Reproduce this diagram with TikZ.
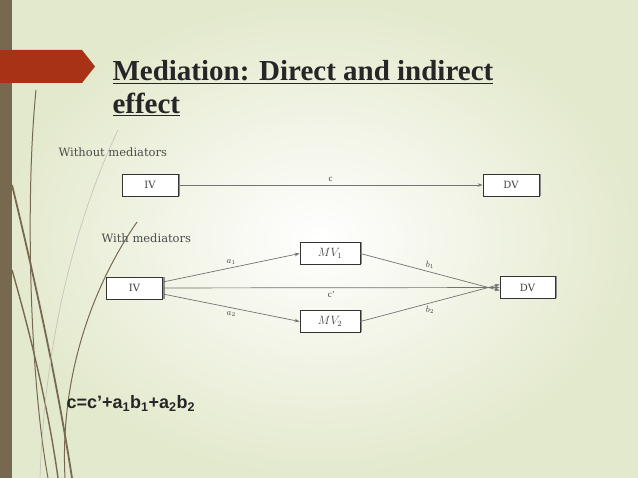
\documentclass[tikz,border=0pt]{standalone}
\usepackage{fontspec}
\setmainfont{Liberation Serif}
\setsansfont{Liberation Sans}
\newfontfamily\wideserif{DejaVu Serif}
\usetikzlibrary{arrows.meta,shadows}
\definecolor{barc}{HTML}{76694F}
\definecolor{redc}{HTML}{A83216}
\definecolor{bgc}{HTML}{E3E9CC}
\begin{document}
\begin{tikzpicture}[x=1pt,y=-1pt,
  box/.style={draw=black!80,fill=white,line width=0.7pt,minimum width=#1,minimum height=22pt,inner sep=0pt,
    font=\wideserif\fontsize{10}{12}\selectfont,text=black!75,
    drop shadow={shadow xshift=2pt,shadow yshift=0pt,fill=black!45,opacity=1}},
  box/.default=56pt,
  conn/.style={draw=black!55,line width=0.7pt,-{Stealth[length=5pt,width=3.5pt]}},
  el/.style={font=\fontsize{9}{10}\selectfont,text=black!75},
  hd/.style={font=\wideserif\fontsize{11.5}{12}\selectfont,text=black!70,anchor=west},
  curve/.style={draw=barc,line width=1.8pt}]
\useasboundingbox (0,0) rectangle (638,478);
\shade[inner color=white,outer color=bgc] (0,0) rectangle (638,478);
\fill[barc] (0,0) rectangle (12,478);
% decorative curves
\draw[curve] (12,185) .. controls (40,300) and (60,400) .. (72,478);
\draw[curve,line width=1.4pt] (12,270) .. controls (35,350) and (50,420) .. (58,478);
\draw[curve,line width=1pt] (36,90) .. controls (25,200) and (30,380) .. (48,478);
\draw[barc,line width=1pt] (137,222) .. controls (90,290) and (60,380) .. (65,478);
\draw[barc!40,line width=0.7pt] (118,130) .. controls (80,210) and (45,330) .. (40,478);
\fill[redc] (0,50) -- (82,50) -- (95,66.5) -- (82,83) -- (0,83) -- cycle;
% title
\node[anchor=base west,font=\fontsize{29}{29}\selectfont\bfseries,text=black!85] (t1) at (109,81) {\underline{Mediation: Direct and indirect}};
\node[anchor=base west,font=\fontsize{29}{29}\selectfont\bfseries,text=black!85] (t2) at (109,114) {\underline{effect}};
% top diagram
\node[hd] (h1) at (55,152) {Without mediators};
\node[box] (iv1) at (150,185) {IV};
\node[box] (dv1) at (511,185) {DV};
\draw[conn] (iv1) -- node[el,above]{c} (dv1);
% bottom diagram
\node[hd] (h2) at (98,238) {With mediators};
\node[box] (iv2) at (134.5,288) {IV};
\node[box=60pt,font=\fontsize{12}{12}\selectfont] (mv1) at (330,253.5) {$M V_1$};
\node[box=60pt,font=\fontsize{12}{12}\selectfont] (mv2) at (330,321.5) {$M V_2$};
\node[box=55pt] (dv2) at (527.5,287.5) {DV};
\draw[conn] (iv2.east) ++(0,-6) coordinate (a) (a) -- node[el,above,pos=0.5]{$a_1$} (mv1.west);
\draw[conn] (iv2.east) ++(0,6) coordinate (b) (b) -- node[el,below,pos=0.5]{$a_2$} (mv2.west);
\draw[conn] (iv2) -- node[el,below]{c'} (dv2);
\draw[conn] (mv1.east) -- node[el,above]{$b_1$} ([yshift=-3pt]dv2.west);
\draw[conn] (mv2.east) -- node[el,below]{$b_2$} ([yshift=3pt]dv2.west);
\node[anchor=base west,font=\sffamily\bfseries\fontsize{18}{20}\selectfont,text=black!85] (f) at (63,409) {c=c’+a\textsubscript{1}b\textsubscript{1}+a\textsubscript{2}b\textsubscript{2}};
\end{tikzpicture}
\end{document}
